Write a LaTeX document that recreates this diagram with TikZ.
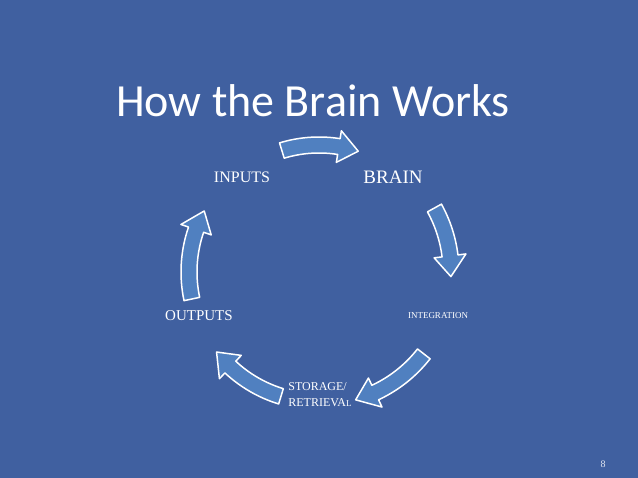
\documentclass[tikz,border=0pt]{standalone}
\usepackage{fontspec}
\setmainfont{Liberation Serif}
\newfontfamily\titlefont{Carlito}
\definecolor{bg}{RGB}{64,96,160}
\definecolor{arr}{RGB}{80,128,192}
\newcommand{\cyclearrow}[3]{% start angle, end angle, radius
  \pgfmathsetmacro{\bb}{#2+9}
  \filldraw[arrowsty] ($(C)+(#1:#3-8)$) arc[start angle=#1,end angle=\bb,radius=#3-8]
    -- ($(C)+(\bb:#3-16)$) -- ($(C)+(#2:#3)$) -- ($(C)+(\bb:#3+16)$) -- ($(C)+(\bb:#3+8)$)
    arc[start angle=\bb,end angle=#1,radius=#3+8] -- cycle;}
\usetikzlibrary{calc}
\begin{document}
\begin{tikzpicture}[x=1pt,y=1pt,
  arrowsty/.style={fill=arr,draw=white,line width=1.5pt,line join=round},
  lab/.style={text=white,inner sep=0pt}]
\fill[bg] (0,0) rectangle (638,478);
\useasboundingbox (0,0) rectangle (638,478);
\coordinate (C) at (319,206);
\node[text=white,font=\titlefont\fontsize{46}{46}\selectfont] (title) at (313,377) {How the Brain Works};
\node[lab,font=\fontsize{16}{16}\selectfont] (inputs) at (242,301) {INPUTS};
\node[lab,font=\fontsize{19}{19}\selectfont] (brain) at (393,301) {BRAIN};
\node[lab,font=\fontsize{9}{9}\selectfont] (integ) at (438,162) {INTEGRATION};
\node[lab,font=\fontsize{12}{12}\selectfont,align=left] (stor) at (320,83) {STORAGE/\\[4pt]RETRIEVA{\fontsize{9}{9}\selectfont L}};
\node[lab,font=\fontsize{15}{15}\selectfont] (outputs) at (199,162) {OUTPUTS};
\node[text=white!85!bg,font=\fontsize{10}{10}\selectfont] (pg) at (603,14) {8};
\cyclearrow{107}{72}{127}
\cyclearrow{29}{-2}{132}
\cyclearrow{-38}{-74}{133}
\cyclearrow{-107}{-142}{130}
\cyclearrow{192}{152}{130}
\end{tikzpicture}
\end{document}
